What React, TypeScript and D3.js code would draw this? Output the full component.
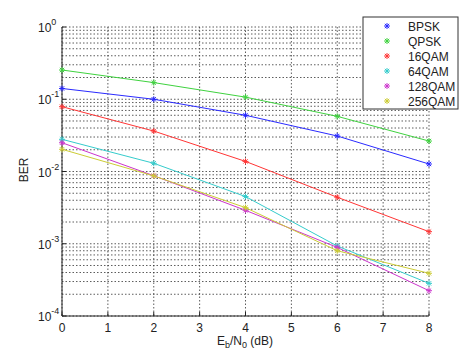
import React from "react";
import * as d3 from "d3";

const xValues = [0, 2, 4, 6, 8];
const seriesNames = ["BPSK", "QPSK", "16QAM", "64QAM", "128QAM", "256QAM"];
const bpsk = [0.141, 0.1, 0.06, 0.031, 0.0127];
const qpsk = [0.254, 0.17, 0.107, 0.058, 0.0264];
const qam16 = [0.0789, 0.0363, 0.0138, 0.0044, 0.00147];
const qam64 = [0.0279, 0.013, 0.0045, 0.00093, 0.000283];
const qam128 = [0.025, 0.00875, 0.0029, 0.00089, 0.000224];
const qam256 = [0.0203, 0.0087, 0.00316, 0.0008, 0.00039];
const seriesColors = ["#2a2aff", "#3fd23f", "#ff3535", "#35cccc", "#cc35cc", "#cccc35"];
const xTicks = [0, 1, 2, 3, 4, 5, 6, 7, 8];
const yDecades = [0, -1, -2, -3, -4];

const allSeries = [bpsk, qpsk, qam16, qam64, qam128, qam256];

function Star({ x, y, color }: { x: number; y: number; color: string }) {
  const r = 3;
  const d = r * 0.72;
  return (
    <g stroke={color} strokeWidth={1}>
      <line x1={x - r} y1={y} x2={x + r} y2={y} />
      <line x1={x} y1={y - r} x2={x} y2={y + r} />
      <line x1={x - d} y1={y - d} x2={x + d} y2={y + d} />
      <line x1={x - d} y1={y + d} x2={x + d} y2={y - d} />
    </g>
  );
}

export default function App() {
  const W = 474, H = 355;
  const left = 62, right = 429, top = 27, bottom = 316;
  const x = d3.scaleLinear().domain([0, 8]).range([left, right]);
  const y = d3.scaleLog().domain([1e-4, 1]).range([bottom, top]);
  const font = "'Liberation Sans', Arial, sans-serif";

  const minorY: number[] = [];
  for (let e = -4; e < 0; e++) {
    for (let m = 1; m <= 9; m++) {
      minorY.push(m * Math.pow(10, e));
    }
  }
  minorY.push(1);

  const line = d3
    .line<number>()
    .x((_, i) => x(xValues[i]))
    .y((v) => y(v));

  const gridStyle = { stroke: "#333", strokeWidth: 0.8, strokeDasharray: "1.5,2" };

  return (
    <svg width={W} height={H} style={{ position: "absolute", left: 0, top: 0, background: "#fff" }} fontFamily={font}>
      <rect width={W} height={H} fill="#fff" />
      {minorY.map((v, i) => (
        <line key={"gy" + i} x1={left} x2={right} y1={y(v)} y2={y(v)} {...gridStyle} />
      ))}
      {xTicks.map((t) => (
        <line key={"gx" + t} x1={x(t)} x2={x(t)} y1={top} y2={bottom} {...gridStyle} />
      ))}
      <line x1={left} x2={right} y1={bottom} y2={bottom} stroke="#222" strokeWidth={1} />
      <line x1={left} x2={left} y1={top} y2={bottom} stroke="#222" strokeWidth={1} />
      {xTicks.map((t) => (
        <g key={"xt" + t}>
          <line x1={x(t)} x2={x(t)} y1={bottom} y2={bottom - 4} stroke="#222" />
          <text x={x(t)} y={bottom + 16} fontSize={12} textAnchor="middle" fill="#222">
            {t}
          </text>
        </g>
      ))}
      {yDecades.map((e) => (
        <g key={"yt" + e}>
          <line x1={left} x2={left + 4} y1={y(Math.pow(10, e))} y2={y(Math.pow(10, e))} stroke="#222" />
          <text x={left - 24} y={y(Math.pow(10, e)) + 5} fontSize={12} textAnchor="start" fill="#222">
            10
            <tspan fontSize={9} dy={-7}>{e}</tspan>
          </text>
        </g>
      ))}
      {allSeries.map((s, i) => (
        <g key={"s" + i}>
          <path d={line(s) || ""} fill="none" stroke={seriesColors[i]} strokeWidth={1} />
          {s.map((v, j) => (
            <Star key={j} x={x(xValues[j])} y={y(v)} color={seriesColors[i]} />
          ))}
        </g>
      ))}
      <text x={28} y={170} fontSize={12} textAnchor="middle" fill="#222" transform="rotate(-90 28 170)">
        BER
      </text>
      <text x={245} y={345} fontSize={12} textAnchor="middle" fill="#222">
        E<tspan fontSize={9} dy={3}>b</tspan>
        <tspan dy={-3}>/N</tspan>
        <tspan fontSize={9} dy={3}>0</tspan>
        <tspan dy={-3}> (dB)</tspan>
      </text>
      <g>
        <rect x={363} y={17} width={95} height={92} fill="#fff" stroke="#333" strokeWidth={1} />
        {seriesNames.map((n, i) => (
          <g key={"lg" + i}>
            <Star x={387} y={26 + i * 15} color={seriesColors[i]} />
            <text x={408} y={26 + i * 15 + 4.5} fontSize={12} fill="#222">
              {n}
            </text>
          </g>
        ))}
      </g>
    </svg>
  );
}
